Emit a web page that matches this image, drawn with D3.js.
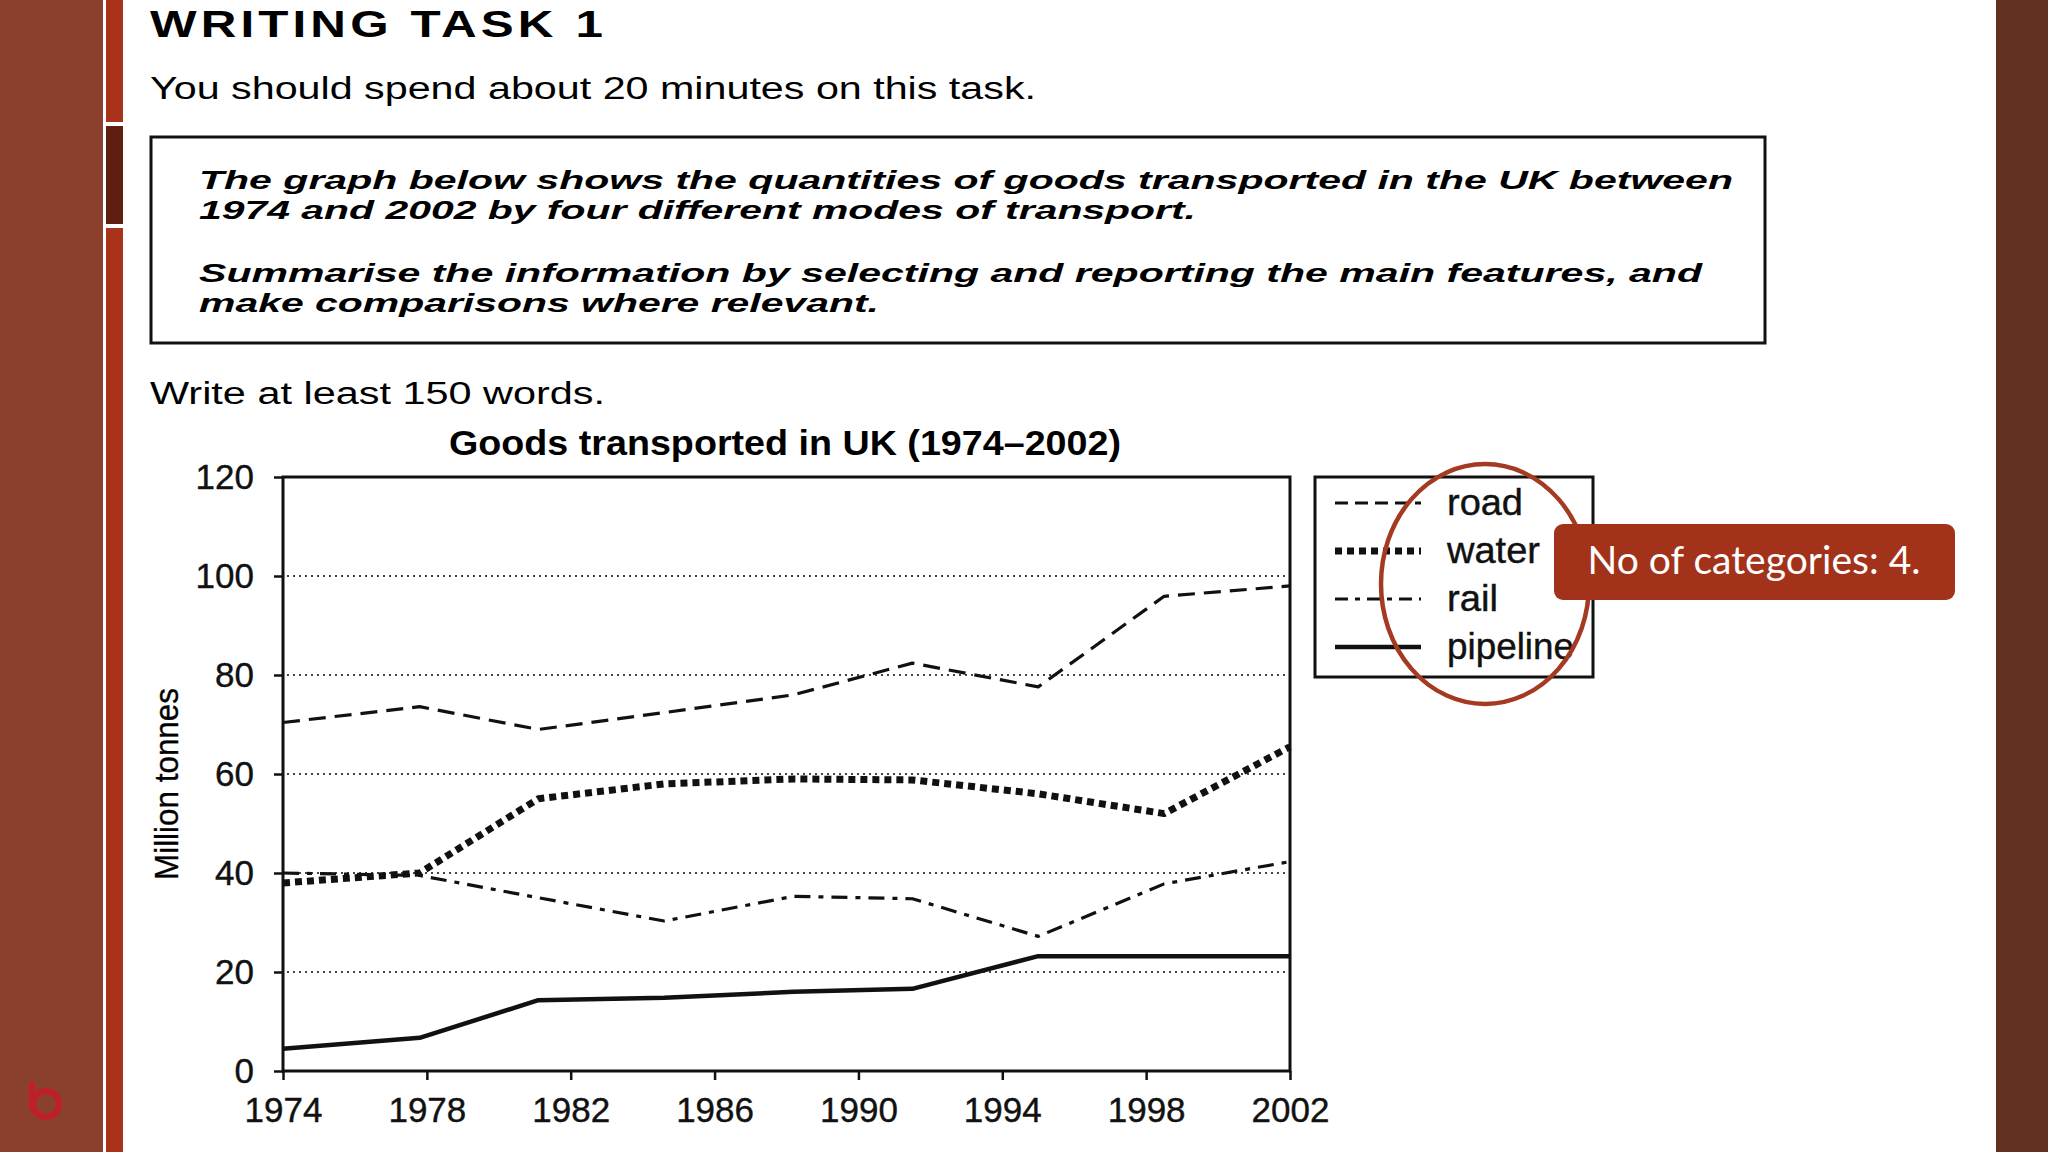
<!DOCTYPE html>
<html>
<head>
<meta charset="utf-8">
<script src="https://cdn.jsdelivr.net/npm/d3@7"></script>
<style>
  html, body { margin: 0; padding: 0; background: #fff; }
  svg { display: block; }
</style>
</head>
<body>
<svg id="slide"></svg>
<script>
// data
const years = [1974, 1977.8, 1981.1, 1984.6, 1988.2, 1991.5, 1995, 1998.5, 2002];
const road = [70.4, 73.6, 69, 72.4, 76, 82.4, 77.6, 95.9, 98];
const water = [38, 40, 55, 58, 59, 58.8, 56, 52, 65.5];
const rail = [40, 39.5, 35, 30.3, 35.3, 34.8, 27.2, 37.8, 42.3];
const pipeline = [4.5, 6.7, 14.3, 14.8, 16, 16.6, 23.2, 23.2, 23.2];

const seriesNames = ['road', 'water', 'rail', 'pipeline'];
const xTickYears = [1974, 1978, 1982, 1986, 1990, 1994, 1998, 2002];
const yTickValues = [0, 20, 40, 60, 80, 100, 120];
const gridValues = [20, 40, 60, 80, 100];

const W = 2048, H = 1152;
const sans = '"Liberation Sans", Arial, sans-serif';
const narrow = '"Liberation Sans Narrow", "Liberation Sans", Arial, sans-serif';

const svg = d3.select('#slide').attr('width', W).attr('height', H).attr('viewBox', [0, 0, W, H]);

// slide decoration
svg.append('rect').attr('x', 0).attr('y', 0).attr('width', W).attr('height', H).attr('fill', '#fff');
svg.append('rect').attr('x', 0).attr('y', 0).attr('width', 103).attr('height', H).attr('fill', '#8b3f2d');
svg.append('rect').attr('x', 106).attr('y', 0).attr('width', 17).attr('height', 122).attr('fill', '#a8331a');
svg.append('rect').attr('x', 106).attr('y', 126).attr('width', 17).attr('height', 98).attr('fill', '#5e1f10');
svg.append('rect').attr('x', 106).attr('y', 228).attr('width', 17).attr('height', H - 228).attr('fill', '#a8331a');
svg.append('rect').attr('x', 1996).attr('y', 0).attr('width', 52).attr('height', H).attr('fill', '#63311f');

// logo, bottom left
const logo = svg.append('g').attr('transform', 'translate(46,1104)');
logo.append('circle').attr('r', 13).attr('fill', 'none').attr('stroke', '#c01f2a').attr('stroke-width', 6);
logo.append('rect').attr('x', -17).attr('y', -22).attr('width', 6).attr('height', 28).attr('fill', '#c01f2a');

// page text
svg.append('text').attr('x', 150).attr('y', 37)
  .attr('font-family', sans).attr('font-weight', 'bold').attr('font-size', 36)
  .attr('letter-spacing', 3)
  .attr('textLength', 457).attr('lengthAdjust', 'spacingAndGlyphs')
  .text('WRITING TASK 1');

svg.append('text').attr('x', 150).attr('y', 99)
  .attr('font-family', sans).attr('font-size', 31)
  .attr('textLength', 886).attr('lengthAdjust', 'spacingAndGlyphs')
  .text('You should spend about 20 minutes on this task.');

svg.append('rect').attr('x', 151).attr('y', 137).attr('width', 1614).attr('height', 206)
  .attr('fill', 'none').attr('stroke', '#111').attr('stroke-width', 3);

const taskLines = [
  { t: 'The graph below shows the quantities of goods transported in the UK between', y: 189, w: 1534 },
  { t: '1974 and 2002 by four different modes of transport.', y: 219, w: 997 },
  { t: 'Summarise the information by selecting and reporting the main features, and', y: 282, w: 1503 },
  { t: 'make comparisons where relevant.', y: 312, w: 680 }
];
svg.append('g').selectAll('text').data(taskLines).join('text')
  .attr('x', 199).attr('y', d => d.y)
  .attr('font-family', sans).attr('font-weight', 'bold').attr('font-style', 'italic').attr('font-size', 26)
  .attr('textLength', d => d.w).attr('lengthAdjust', 'spacingAndGlyphs')
  .text(d => d.t);

svg.append('text').attr('x', 150).attr('y', 404)
  .attr('font-family', sans).attr('font-size', 31)
  .attr('textLength', 455).attr('lengthAdjust', 'spacingAndGlyphs')
  .text('Write at least 150 words.');

// chart
const x = d3.scaleLinear().domain([1974, 2002]).range([283, 1290]);
const y = d3.scaleLinear().domain([0, 120]).range([1071, 477]);

const chart = svg.append('g');

chart.append('text').attr('x', 785).attr('y', 455).attr('text-anchor', 'middle')
  .attr('font-family', narrow).attr('font-weight', 'bold').attr('font-size', 35)
  .attr('textLength', 672).attr('lengthAdjust', 'spacingAndGlyphs')
  .text('Goods transported in UK (1974\u20132002)');

// dotted gridlines
chart.append('g').selectAll('line').data(gridValues).join('line')
  .attr('x1', x(1974) + 4).attr('x2', x(2002) - 2)
  .attr('y1', d => y(d)).attr('y2', d => y(d))
  .attr('stroke', '#444').attr('stroke-width', 1.8).attr('stroke-dasharray', '2,4');

const yAxis = chart.append('g').attr('transform', `translate(${x(1974)},0)`)
  .call(d3.axisLeft(y).tickValues(yTickValues).tickSize(9).tickPadding(20));
const xAxis = chart.append('g').attr('transform', `translate(0,${y(0)})`)
  .call(d3.axisBottom(x).tickValues(xTickYears).tickFormat(d3.format('d')).tickSize(9).tickPadding(17));
[yAxis, xAxis].forEach(a => {
  a.select('.domain').remove();
  a.selectAll('line').attr('stroke', '#111').attr('stroke-width', 2.5);
  a.selectAll('text').attr('font-family', sans).attr('font-size', 35).attr('fill', '#111')
    .attr('stroke', '#111').attr('stroke-width', 0.4);
});

chart.append('rect').attr('x', x(1974)).attr('y', y(120))
  .attr('width', x(2002) - x(1974)).attr('height', y(0) - y(120))
  .attr('fill', 'none').attr('stroke', '#111').attr('stroke-width', 3);

chart.append('text')
  .attr('transform', `translate(178,${(y(0) + y(120)) / 2 + 10}) rotate(-90)`)
  .attr('text-anchor', 'middle').attr('font-family', sans).attr('font-size', 34)
  .attr('stroke', '#111').attr('stroke-width', 0.4)
  .attr('textLength', 192).attr('lengthAdjust', 'spacingAndGlyphs')
  .text('Million tonnes');

const styles = {
  road: { width: 3.2, dash: '17,9' },
  water: { width: 7, dash: '7,5' },
  rail: { width: 3.2, dash: '16,8,5,8' },
  pipeline: { width: 4.5, dash: null }
};
const values = { road, water, rail, pipeline };

const line = d3.line().x((d, i) => x(years[i])).y(d => y(d));

chart.append('g').selectAll('path').data(seriesNames).join('path')
  .attr('d', n => line(values[n]))
  .attr('fill', 'none').attr('stroke', '#111')
  .attr('stroke-width', n => styles[n].width)
  .attr('stroke-dasharray', n => styles[n].dash)
  .attr('stroke-linejoin', 'round');

// legend
const legend = svg.append('g');
legend.append('rect').attr('x', 1315).attr('y', 477).attr('width', 278).attr('height', 200)
  .attr('fill', '#fff').attr('stroke', '#111').attr('stroke-width', 3);
const legendLen = { road: 76, water: 93, rail: 51, pipeline: 127 };
const row = legend.selectAll('g').data(seriesNames).join('g')
  .attr('transform', (d, i) => `translate(1335,${503 + i * 48})`);
row.append('line').attr('x1', 0).attr('x2', 86).attr('y1', 0).attr('y2', 0)
  .attr('stroke', '#111')
  .attr('stroke-width', d => styles[d].width)
  .attr('stroke-dasharray', d => d === 'road' ? '13,7' : d === 'rail' ? '13,7,5,7' : styles[d].dash);
row.append('text').attr('x', 112).attr('y', 12)
  .attr('font-family', sans).attr('font-size', 36).attr('fill', '#111')
  .attr('stroke', '#111').attr('stroke-width', 0.4)
  .attr('textLength', d => legendLen[d]).attr('lengthAdjust', 'spacingAndGlyphs')
  .text(d => d);

// annotation
svg.append('ellipse').attr('cx', 1485).attr('cy', 584).attr('rx', 104).attr('ry', 120)
  .attr('fill', 'none').attr('stroke', '#a53a22').attr('stroke-width', 4.5);
svg.append('rect').attr('x', 1554).attr('y', 524).attr('width', 401).attr('height', 76).attr('rx', 9)
  .attr('fill', '#a3321a');
svg.append('text').attr('x', 1754).attr('y', 574).attr('text-anchor', 'middle')
  .attr('font-family', 'Lato, "Open Sans", sans-serif').attr('font-size', 38).attr('fill', '#fff')
  .attr('textLength', 333).attr('lengthAdjust', 'spacingAndGlyphs')
  .text('No of categories: 4.');
</script>
</body>
</html>
